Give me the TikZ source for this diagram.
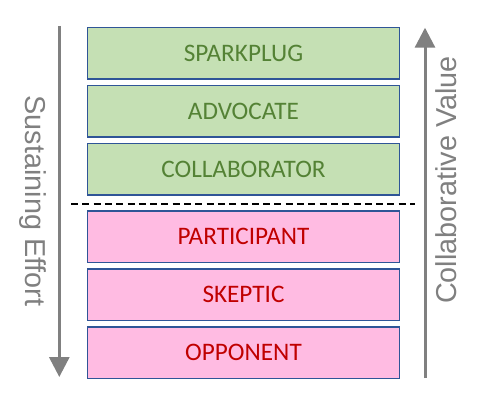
\documentclass[tikz,border=0pt]{standalone}
\usepackage{fontspec}
\setmainfont{Carlito}
\newfontfamily\axisfont{Liberation Sans}
\usepackage{tikz}
\usetikzlibrary{positioning, arrows.meta}
\definecolor{roleGreen}{HTML}{C5E0B4}
\definecolor{roleGreenText}{HTML}{548235}
\definecolor{rolePink}{HTML}{FFBBE2}
\definecolor{rolePinkText}{HTML}{C00000}
\definecolor{roleEdge}{HTML}{2F5597}
\definecolor{axisGray}{HTML}{808080}
\tikzset{
    rolebox/.style={draw=roleEdge, line width=1.3pt, minimum width=312pt, minimum height=51.5pt, inner sep=0pt, font=\fontsize{25.2}{29}\selectfont},
    highrole/.style={rolebox, fill=roleGreen, text=roleGreenText},
    lowrole/.style={rolebox, fill=rolePink, text=rolePinkText},
    axisarrow/.style={draw=axisGray, line width=3pt, -{Triangle[length=20pt,width=20pt]}},
    axislabel/.style={text=axisGray, inner sep=0pt, font=\axisfont\fontsize{28.8}{32}\selectfont}
}

\begin{document}
\begin{tikzpicture}[x=1pt, y=-1pt]
        \useasboundingbox (0,0) rectangle (483,404);
        %\draw[help lines] (0,0) grid[step=20] (483,404);
        \node[highrole] (sparkplug) at (243.5,53.4) {SPARKPLUG};
        \node[highrole, below=5.2pt of sparkplug] (advocate) {ADVOCATE};
        \node[highrole, below=5.2pt of advocate] (collaborator) {COLLABORATOR};
        \node[lowrole, below=14.5pt of collaborator] (participant) {PARTICIPANT};
        \node[lowrole, below=5.2pt of participant] (skeptic) {SKEPTIC};
        \node[lowrole, below=5.2pt of skeptic] (opponent) {OPPONENT};

        % split between the two groups
        \coordinate (splitL) at (71,204);
        \coordinate (splitR) at (415,204);
        \draw[line width=1.3pt, dash pattern=on 7pt off 4.3pt] (splitL) -- (splitR);

        % effort goes down, value goes up
        \coordinate (effortTop) at (59.3,26);
        \coordinate (effortEnd) at (59.3,377);
        \draw[axisarrow] (effortTop) -- (effortEnd);
        \coordinate (valueBottom) at (425,378);
        \coordinate (valueEnd) at (425,27.7);
        \draw[axisarrow] (valueBottom) -- (valueEnd);

        \node[axislabel, rotate=-90] (effort) at (32.5,201) {Sustaining Effort};
        \node[axislabel, rotate=90] (value) at (446,180) {Collaborative Value};
    \end{tikzpicture}
\end{document}
